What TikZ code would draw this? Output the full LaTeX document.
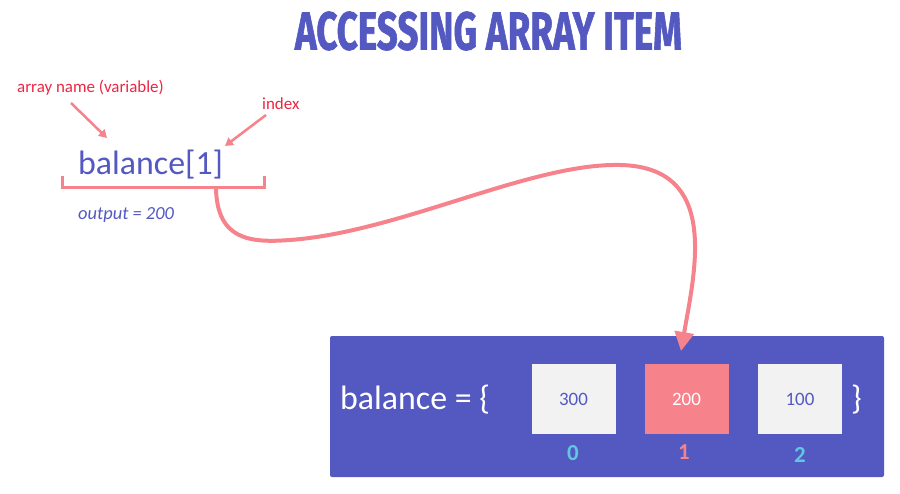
\documentclass[tikz,border=0pt]{standalone}
\usepackage{graphicx}
\usepackage{fontspec}
\setmainfont{Carlito}
\newfontfamily\titlefont{Fira Sans}[FakeBold=1.5]
\usetikzlibrary{arrows.meta}
\definecolor{arrblue}{RGB}{83,89,193}
\definecolor{arrpink}{RGB}{246,130,140}
\definecolor{lblred}{RGB}{238,36,66}
\definecolor{idxcyan}{RGB}{95,200,225}
\definecolor{cellgray}{RGB}{242,242,242}
\newcommand{\fsz}[1]{\fontsize{#1}{#1}\selectfont}
\begin{document}
\begin{tikzpicture}[x=1bp,y=-1bp,
  txt/.style={inner sep=0,anchor=base west},
  cell/.style={minimum width=84bp,minimum height=70bp,inner sep=0,font=\fsz{19}},
  idx/.style={inner sep=0,anchor=base,font=\fsz{23}\bfseries},
  pointer/.style={-{Triangle[length=8bp,width=9bp]},arrpink,line width=2.5bp}]
 \useasboundingbox (0,0) rectangle (900,494);
 \node[arrblue,inner sep=0] (title) at (488.5,31) {\resizebox{387bp}{38bp}{\titlefont\bfseries ACCESSING ARRAY ITEM}};
 %
 \node[txt,lblred,font=\fsz{17}] (lblname) at (17,93) {array name (variable)};
 \node[txt,lblred,font=\fsz{17}] (lblindex) at (262,110) {index};
 \node[txt,arrblue,font=\fsz{34}] (expr) at (78,175) {balance[1]};
 \node[txt,arrblue,font=\fsz{18.5}\itshape] (output) at (78,220) {output = 200};
 %
 \coordinate (nametail) at (71,103);
 \coordinate (namehead) at (107,138);
 \coordinate (indextail) at (266,115);
 \coordinate (indexhead) at (225,146);
 \draw[pointer] (nametail) -- (namehead);
 \draw[pointer] (indextail) -- (indexhead);
 %
 \draw[arrpink,line width=3bp] (62,176) -- (62,187.5) -- (264,187.5) -- (264,176);
 %
 \fill[arrblue,rounded corners=2bp] (330,336) rectangle (884,477);
 \node[txt,white,font=\fsz{34}] (decl) at (340,409) {balance = \{};
 \node[cell,fill=cellgray,text=arrblue] (cell0) at (573.5,399) {300};
 \node[cell,fill=arrpink,text=white] (cell1) at (686.5,399) {200};
 \node[cell,fill=cellgray,text=arrblue] (cell2) at (800,399) {100};
 \node[txt,white,font=\fsz{34}] (close) at (851,409) {\}};
 \node[idx,idxcyan] (idx0) at (573,460) {0};
 \node[idx,arrpink] (idx1) at (684,459) {1};
 \node[idx,idxcyan] (idx2) at (800,462) {2};
 %
 \coordinate (start) at (216,188);
 \coordinate (tip) at (681,351);
 \draw[arrpink,line width=4bp,-{Triangle[length=19bp,width=19bp]}] (start)
   .. controls (217,240) and (250,243) .. (290,240)
   .. controls (400,232) and (530,163) .. (620,165)
   .. controls (720,167) and (695,270) .. (tip);
\end{tikzpicture}
\end{document}
